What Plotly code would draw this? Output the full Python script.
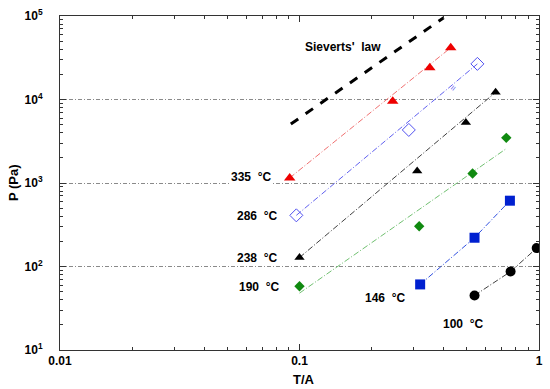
import plotly.graph_objects as go

# ---- data ----
x335 = [0.091, 0.245, 0.350, 0.428]
y335 = [1150, 9500, 24000, 41700]
x286 = [0.097, 0.286, 0.553]
y286 = [410, 4320, 26700]
x238 = [0.100, 0.310, 0.495, 0.659]
y238 = [128, 1395, 5320, 12200]
x190 = [0.100, 0.316, 0.528, 0.730]
y190 = [58, 303, 1300, 3475]
x146 = [0.319, 0.538, 0.756]
y146 = [61, 221, 614]
x100 = [0.538, 0.761, 0.978]
y100 = [45, 87, 166]

fit335_x = [0.091, 0.428]; fit335_y = [1150, 41700]
fit286_x = [0.097, 0.553]; fit286_y = [410, 26700]
fit238_x = [0.100, 0.659]; fit238_y = [128, 12200]
fit190_x = [0.100, 0.730]; fit190_y = [48, 2580]
sieverts_x = [0.092, 0.40]; sieverts_y = [5080, 95500]

ytickvals = [10, 100, 1000, 10000, 100000]
yticktext = ["10<sup>1</sup>", "10<sup>2</sup>", "10<sup>3</sup>", "10<sup>4</sup>", "10<sup>5</sup>"]
xtickvals = [0.01, 0.1, 1]
xticktext = ["0.01", "0.1", "1"]

fig = go.Figure()

FINE_DASHDOT = "6px,2px,1px,2px"

def line(x, y, color, dash=FINE_DASHDOT, width=1):
    fig.add_trace(go.Scatter(x=x, y=y, mode="lines",
                             line=dict(color=color, width=width, dash=dash),
                             showlegend=False, hoverinfo="skip"))

def pts(x, y, symbol, color, size, lw=0):
    m = dict(symbol=symbol, size=size, color=color, line=dict(color=color, width=lw))
    fig.add_trace(go.Scatter(x=x, y=y, mode="markers", marker=m, showlegend=False))

# fit lines
line(sieverts_x, sieverts_y, "black", dash="dash", width=3)
line(fit335_x, fit335_y, "#f07070")
line(fit286_x, fit286_y, "#6060f0")
line(fit238_x, fit238_y, "#404040")
line(fit190_x, fit190_y, "#70c070")
line(x146, y146, "#3050e0")
line(x100, y100, "#404040")

# markers
pts(x335, y335, "triangle-up", "#ee0000", 10)
pts(x286, y286, "diamond-open", "#5050f0", 10, lw=1)
pts(x238, y238, "triangle-up", "black", 9)
pts(x190, y190, "diamond", "#108a10", 8)
pts(x146, y146, "square", "#0020d0", 10)
pts(x100, y100, "circle", "black", 10)

lab_font = dict(family="Liberation Sans, Arial", size=12, color="black")
ann = [
    dict(x=-1.110, y=3.071, text="<b>335  °C</b>", xanchor="right", bgcolor="white"),
    dict(x=-1.085, y=2.600, text="<b>286  °C</b>", xanchor="right"),
    dict(x=-1.085, y=2.106, text="<b>238  °C</b>", xanchor="right"),
    dict(x=-1.077, y=1.753, text="<b>190  °C</b>", xanchor="right"),
    dict(x=-0.642, y=1.624, text="<b>146  °C</b>", xanchor="center"),
    dict(x=-0.319, y=1.306, text="<b>100  °C</b>", xanchor="center"),
    dict(x=-0.820, y=4.624, text="<b>Sieverts'  law</b>", xanchor="center"),
]
for a in ann:
    fig.add_annotation(xref="x", yref="y", showarrow=False, font=lab_font,
                       yanchor="middle", **a)

# break mark on 286 line
fig.add_annotation(xref="x", yref="y", x=-0.361, y=4.14, text="=", showarrow=False,
                   textangle=-52, font=dict(size=10, color="#6060f0"))

# axis titles
fig.add_annotation(xref="paper", yref="paper", x=-0.098, y=0.50, text="<b>P (Pa)</b>",
                   textangle=-90, showarrow=False, xanchor="center", yanchor="middle",
                   font=dict(family="Liberation Sans, Arial", size=13, color="black"))
fig.add_annotation(xref="paper", yref="paper", x=0.51, y=-0.088, text="<b>T/A</b>",
                   showarrow=False, xanchor="center", yanchor="middle",
                   font=dict(family="Liberation Sans, Arial", size=13, color="black"))

xminor = [k * 10 ** d for d in (-2, -1) for k in range(2, 10)]
yminor = [k * 10 ** d for d in (1, 2, 3, 4) for k in range(2, 10)]

fig.update_xaxes(type="log", range=[-2, 0], tickmode="array", tickvals=xtickvals,
                 ticktext=["<b>%s</b>" % t for t in xticktext],
                 ticks="inside", ticklen=6, tickcolor="#333", showgrid=False,
                 showline=True, linecolor="#333", linewidth=1, mirror="allticks",
                 zeroline=False,
                 minor=dict(tickmode="array", tickvals=xminor, ticks="inside",
                            ticklen=3, tickcolor="#333", showgrid=False),
                 tickfont=dict(family="Liberation Sans, Arial", size=12, color="black"))
fig.update_yaxes(type="log", range=[1, 5], tickmode="array", tickvals=ytickvals,
                 ticktext=["<b>%s</b>" % t for t in yticktext],
                 ticks="inside", ticklen=6, tickcolor="#333",
                 showgrid=True, gridcolor="#8a8a8a", griddash="4px,2px,1px,2px", gridwidth=1,
                 showline=True, linecolor="#333", linewidth=1, mirror="allticks",
                 zeroline=False, ticklabelstandoff=14,
                 minor=dict(tickmode="array", tickvals=yminor, ticks="inside",
                            ticklen=3, tickcolor="#333", showgrid=False),
                 tickfont=dict(family="Liberation Sans, Arial", size=12, color="black"))

fig.update_layout(width=550, height=389, margin=dict(l=60, r=7, t=11, b=39),
                  paper_bgcolor="white", plot_bgcolor="white", showlegend=False)

fig.write_html("out.html", config={"displayModeBar": False},
               post_script="document.body.style.margin='0px';document.body.style.padding='0px';")
